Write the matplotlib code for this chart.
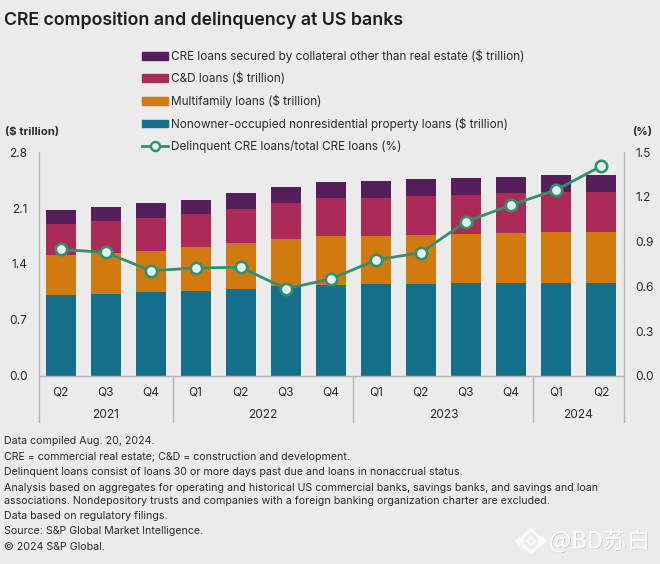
"""CRE composition and delinquency at US banks."""
import numpy as np
import matplotlib
matplotlib.use("Agg")
import matplotlib.pyplot as plt
import matplotlib.patheffects as pe
from matplotlib.lines import Line2D
from matplotlib.patches import Patch

plt.rcParams["font.family"] = ["Inter", "DejaVu Sans"]

# Data
quarters = ["Q2", "Q3", "Q4", "Q1", "Q2", "Q3", "Q4", "Q1", "Q2", "Q3", "Q4", "Q1", "Q2"]
years = ["2021", "2022", "2023", "2024"]
year_counts = [3, 4, 4, 2]
nonowner = [1.015, 1.024, 1.045, 1.066, 1.09, 1.124, 1.137, 1.153, 1.153, 1.157, 1.166, 1.166, 1.166]
multifamily = [.498, .51, .518, .547, .569, .589, .614, .598, .606, .619, .623, .631, .635]
cd_loans = [.388, .401, .409, .41, .426, .447, .472, .476, .489, .489, .497, .501, .497]
other_cre = [.18, .179, .193, .183, .201, .205, .205, .213, .217, .217, .209, .213, .222]
delinquent = [.848, .828, .705, .723, .728, .584, .649, .777, .826, 1.034, 1.146, 1.247, 1.406]
left_ticks = [0.0, 0.7, 1.4, 2.1, 2.8]
right_ticks = [0.0, 0.3, 0.6, 0.9, 1.2, 1.5]

W, H = 660, 564
BG = "#ebebeb"
GREY = "#b4b4b4"
TXT = "#2b2b2b"
MARK = "#fafafa"
BLUE, ORANGE, RED, PURPLE, GREEN = "#136f8a", "#d07a10", "#ab2a57", "#561f5b", "#32906f"


def fx(px):
    return px / W


def fy(py):
    return 1 - py / H


fig = plt.figure(figsize=(W / 100, H / 100), dpi=100, facecolor=BG)
ax = fig.add_axes([fx(38.5), fy(375.7), (624 - 38.5) / W, (375.7 - 152.3) / H], facecolor=BG)

x = np.arange(len(quarters))
bottom = np.zeros(len(x))
for vals, col in [(nonowner, BLUE), (multifamily, ORANGE), (cd_loans, RED), (other_cre, PURPLE)]:
    ax.bar(x, vals, width=0.667, bottom=bottom, color=col, linewidth=0)
    bottom += np.array(vals)

ax.set_xlim(-0.49, 12.51)
ax.set_ylim(0, 2.8)
ax.set_yticks(left_ticks)
ax.set_yticklabels([f"{t:.1f}" for t in left_ticks])
ax.set_xticks(x)
ax.set_xticklabels(quarters)
ax.tick_params(axis="both", length=0, labelsize=8.6, labelcolor=TXT)
ax.tick_params(axis="x", pad=7.5)
ax.tick_params(axis="y", pad=8)
ax.spines["top"].set_visible(False)
for s in ["left", "right", "bottom"]:
    ax.spines[s].set_color(GREY)
    ax.spines[s].set_linewidth(1.0)

# year bands under the quarters
trans = ax.get_xaxis_transform()
drop = -(422 - 375.7) / (375.7 - 152.3)
start = 0
edges = [-0.49]
for yr, n in zip(years, year_counts):
    ax.text(start + (n - 1) / 2, -(415 - 375.7) / (375.7 - 152.3), yr, transform=trans,
            ha="center", va="center", fontsize=8.6, color=TXT)
    start += n
    edges.append(start - 0.5 if start < len(x) else 12.51)
for e in edges:
    ax.plot([e, e], [0, drop], transform=trans, color=GREY, lw=1.0, clip_on=False)

ax2 = ax.twinx()
ax2.set_ylim(0, 1.5)
ax2.set_yticks(right_ticks)
ax2.set_yticklabels([f"{t:.1f}" for t in right_ticks])
ax2.tick_params(axis="y", length=0, labelsize=8.6, labelcolor=TXT, pad=8)
ax2.spines["top"].set_visible(False)
for s in ["left", "right", "bottom"]:
    ax2.spines[s].set_visible(False)
ax2.plot(x, delinquent, color=GREEN, lw=2.0, marker="o", ms=8.2, mfc="#e3f1ec", mec=GREEN, mew=1.9,
         clip_on=False)

handles = [
    Patch(color=PURPLE, label="CRE loans secured by collateral other than real estate ($ trillion)"),
    Patch(color=RED, label="C&D loans ($ trillion)"),
    Patch(color=ORANGE, label="Multifamily loans ($ trillion)"),
    Patch(color=BLUE, label="Nonowner-occupied nonresidential property loans ($ trillion)"),
    Line2D([], [], color=GREEN, lw=2.0, marker="o", ms=6.5, mfc="#e3f1ec", mec=GREEN, mew=1.7,
           label="Delinquent CRE loans/total CRE loans (%)"),
]
leg = fig.legend(handles=handles, loc="upper left", bbox_to_anchor=(fx(142), fy(49.7)), frameon=False,
                 fontsize=8.45, labelcolor=TXT, handlelength=2.23, handleheight=0.6, handletextpad=0.27,
                 labelspacing=0.8, borderpad=0, borderaxespad=0)

fig.text(fx(4), fy(20.5), "CRE composition and delinquency at US banks", fontsize=12.75, fontweight="semibold",
         color="#1d1d1d", va="center", ha="left")
fig.text(fx(5), fy(131.5), "($ trillion)", fontsize=8.2, fontweight="bold", color=TXT, va="center", ha="left")
fig.text(fx(642), fy(131.5), "(%)", fontsize=8.2, fontweight="bold", color=TXT, va="center", ha="center")

notes = [
    (441, "Data compiled Aug. 20, 2024."),
    (457, "CRE = commercial real estate; C&D = construction and development."),
    (472, "Delinquent loans consist of loans 30 or more days past due and loans in nonaccrual status."),
    (488, "Analysis based on aggregates for operating and historical US commercial banks, savings banks, and savings and loan"),
    (500.5, "associations. Nondepository trusts and companies with a foreign banking organization charter are excluded."),
    (516, "Data based on regulatory filings."),
    (531, "Source: S&P Global Market Intelligence."),
    (547, "© 2024 S&P Global."),
]
for py, line in notes:
    fig.text(fx(3.5), fy(py), line, fontsize=7.65, color=TXT, va="center", ha="left")

# watermark logo and handle
cx, cy = 531, 541
for dx, dy, ms, face in [(-11, 0, 4.2, MARK), (11, 0, 4.2, MARK), (0, 0, 3.6, "none")]:
    fig.add_artist(Line2D([fx(cx + dx)], [fy(cy + dy)], transform=fig.transFigure, marker="D", ms=ms,
                          mfc=face, mec=MARK, mew=1.2, ls="none"))
for sign in (-1, 1):
    fig.add_artist(Line2D([fx(cx - 8), fx(cx), fx(cx + 8)],
                          [fy(cy + sign * 4), fy(cy + sign * 11.5), fy(cy + sign * 4)],
                          transform=fig.transFigure, color=MARK, lw=2.4))
fig.text(fx(549), fy(541), "@BD苏白", fontsize=17, color=MARK, va="center", ha="left",
         family=["Noto Sans CJK SC", "DejaVu Sans"],
         path_effects=[pe.withSimplePatchShadow(offset=(0.5, -0.5), shadow_rgbFace="#b0b0b0", alpha=0.7),
                       pe.Normal()])

fig.savefig("out.png", dpi=100, facecolor=BG)
